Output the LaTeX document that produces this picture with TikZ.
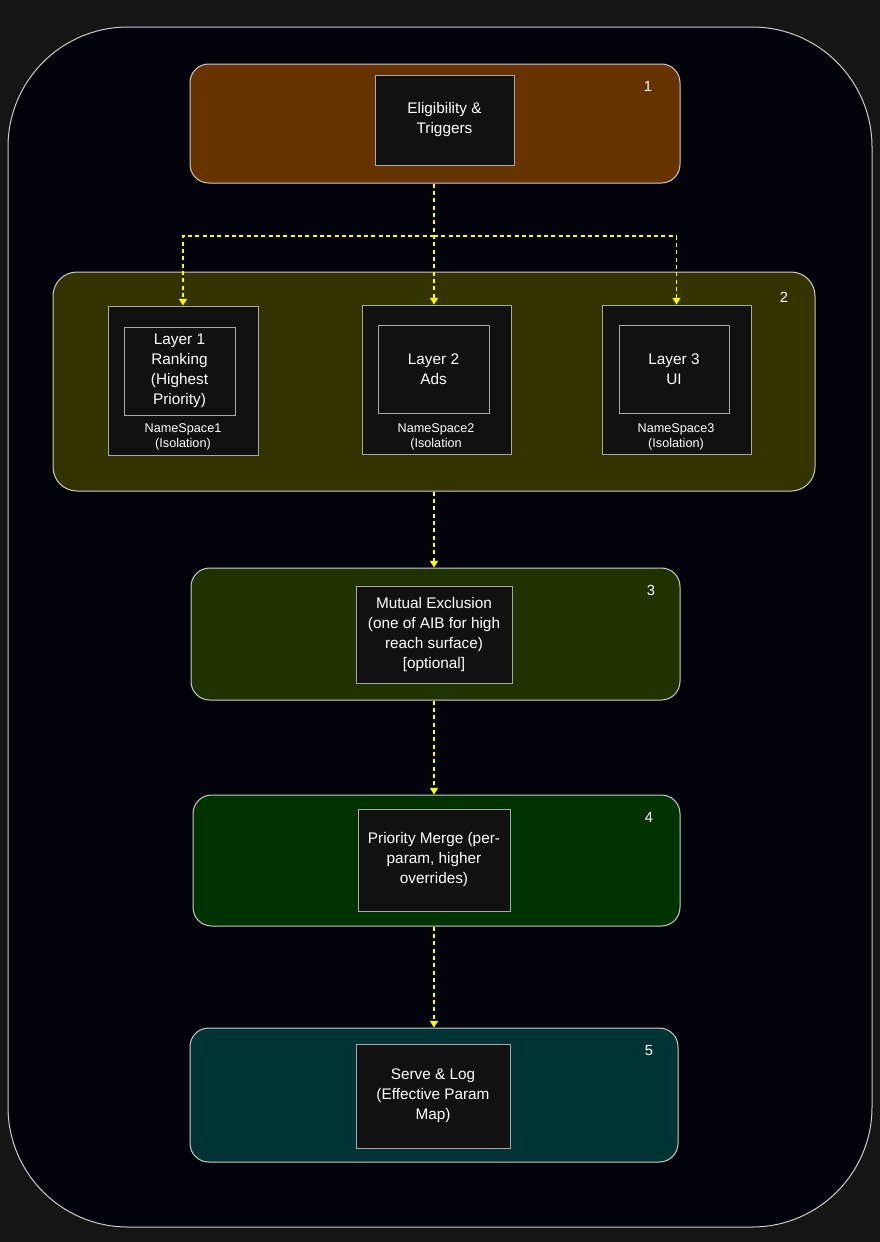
\documentclass[tikz,border=0pt]{standalone}
\usepackage{fontspec}
\setmainfont{Liberation Sans}
\usetikzlibrary{fit, arrows.meta}
\definecolor{pagebg}{HTML}{151515}
\definecolor{canvas}{HTML}{02020A}
\definecolor{edgegray}{HTML}{CCCCCC}
\definecolor{innergray}{HTML}{AAAAAA}
\definecolor{cellbg}{HTML}{111111}
\definecolor{stepone}{HTML}{663300}
\definecolor{steptwo}{HTML}{333300}
\definecolor{stepthree}{HTML}{1F3300}
\definecolor{stepfour}{HTML}{003300}
\definecolor{stepfive}{HTML}{003333}
\definecolor{flow}{HTML}{FFFF00}
\begin{document}
\begin{tikzpicture}[x=0.75pt, y=-0.75pt,
    stage/.style={draw=edgegray, line width=0.75pt, rounded corners=14pt, inner sep=0pt},
    cell/.style={draw=innergray, fill=cellbg, line width=0.75pt, inner sep=0pt},
    txt/.style={text=white, font=\fontsize{11.5}{15}\selectfont, align=center},
    small/.style={text=white, font=\fontsize{9.5}{11.5}\selectfont, align=center},
    num/.style={text=white, font=\fontsize{11}{12}\selectfont},
    flowline/.style={draw=flow, line width=1.1pt, dash pattern=on 3pt off 2.5pt,
      -{Triangle[width=6pt,length=5pt]}}]
  \fill[pagebg] (0,0) rectangle (880,1242);
  \filldraw[fill=canvas, draw=edgegray, line width=0.75pt, rounded corners=90pt]
    (8,27) rectangle (872,1227);

  % stages
  \node[stage, fill=stepone, fit={(190,64)(680,183)}] (s1) {};
  \node[stage, fill=steptwo, rounded corners=18pt, fit={(53,272)(815,491)}] (s2) {};
  \node[stage, fill=stepthree, fit={(191,568)(680,700)}] (s3) {};
  \node[stage, fill=stepfour, fit={(193,795)(680,926)}] (s4) {};
  \node[stage, fill=stepfive, fit={(190,1028)(678,1162)}] (s5) {};

  \node[num] (n1) at (648,86) {1};
  \node[num] (n2) at (784,297) {2};
  \node[num] (n3) at (651,590) {3};
  \node[num] (n4) at (649,817) {4};
  \node[num] (n5) at (649,1051) {5};

  % stage 1
  \node[cell, fit={(375,75)(514,165)}] (c1) {};
  \node[txt] (t1) at (c1.center) {Eligibility \&\\Triggers};

  % stage 2 namespaces
  \node[cell, fit={(108,306)(258,455)}] (ns1) {};
  \node[cell, fit={(124,327)(235,415)}] (l1) {};
  \node[txt] (tl1) at (l1.center) {Layer 1\\Ranking\\(Highest\\Priority)};
  \node[small] (tn1) at (183,437) {NameSpace1\\(Isolation)};

  \node[cell, fit={(362,305)(511,454)}] (ns2) {};
  \node[cell, fit={(378,325)(489,413)}] (l2) {};
  \node[txt] (tl2) at (l2.center) {Layer 2\\Ads};
  \node[small] (tn2) at (436,437) {NameSpace2\\(Isolation};

  \node[cell, fit={(602,305)(751,454)}] (ns3) {};
  \node[cell, fit={(619,325)(729,413)}] (l3) {};
  \node[txt] (tl3) at (l3.center) {Layer 3\\UI};
  \node[small] (tn3) at (676,437) {NameSpace3\\(Isolation)};

  % stage 3-5
  \node[cell, fit={(356,586)(512,683)}] (c3) {};
  \node[txt] (t3) at (c3.center) {Mutual Exclusion\\(one of AIB for high\\reach surface)\\{[optional]}};
  \node[cell, fit={(358,809)(510,911)}] (c4) {};
  \node[txt] (t4) at (c4.center) {Priority Merge (per-\\param, higher\\overrides)};
  \node[cell, fit={(356,1044)(510,1148)}] (c5) {};
  \node[txt] (t5) at (c5.center) {Serve \& Log\\(Effective Param\\Map)};

  % flow
  \coordinate (split) at (434,236);
  \draw[flowline] (s1.south -| split) -- (ns2.north -| split);
  \draw[flowline] (split) -| (ns1.north);
  \draw[flowline] (split) -| (ns3.north);
  \draw[flowline] (s2.south -| split) -- (s3.north -| split);
  \draw[flowline] (s3.south -| split) -- (s4.north -| split);
  \draw[flowline] (s4.south -| split) -- (s5.north -| split);
\end{tikzpicture}
\end{document}
